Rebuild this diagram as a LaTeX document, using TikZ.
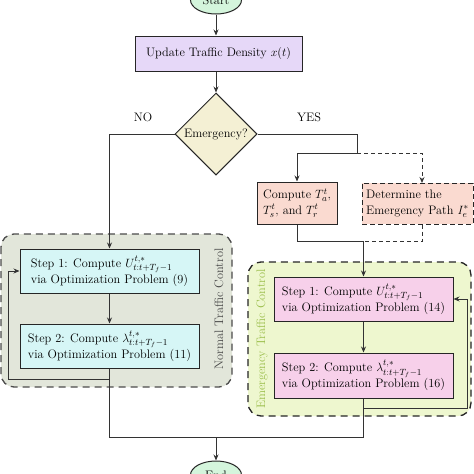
\documentclass[tikz,border=0pt]{standalone}
\usetikzlibrary{shapes.geometric,arrows.meta,calc}
\definecolor{startc}{RGB}{212,245,220}
\definecolor{updc}{RGB}{230,216,248}
\definecolor{diac}{RGB}{244,240,212}
\definecolor{nstepc}{RGB}{214,246,246}
\definecolor{ngrp}{RGB}{226,230,218}
\definecolor{compc}{RGB}{250,218,208}
\definecolor{estepc}{RGB}{247,208,234}
\definecolor{egrp}{RGB}{238,247,207}
\definecolor{elabel}{RGB}{155,190,75}
\definecolor{nlabel}{RGB}{70,70,70}
\begin{document}
\begin{tikzpicture}[x=1pt,y=-1pt,
  every node/.style={font=\fontsize{12.3}{14.5}\selectfont},
  box/.style={draw=black!85, line width=1pt, rectangle, inner sep=0pt, align=left},
  term/.style={draw=black!85, line width=1pt, ellipse, fill=startc, minimum width=51pt, minimum height=28pt, inner sep=0pt},
  conn/.style={draw=black!80, line width=0.8pt},
  arr/.style={conn, -{Stealth[length=6pt,width=5pt]}},
  dconn/.style={conn, dash pattern=on 4pt off 3pt},
  grp/.style={line width=1.3pt, dash pattern=on 7pt off 5pt, rounded corners=13pt},
  grplabel/.style={rotate=90, font=\fontsize{12.3}{14}\selectfont}
]
\useasboundingbox[fill=white] (0,0) rectangle (474,474);
% groups
\draw[grp, fill=ngrp, draw=black!70] (1,234) rectangle (232,387);
\draw[grp, fill=egrp, draw=black!85] (248,262) rectangle (471,416);
\node[grplabel, text=nlabel] (nlab) at (219,309) {Normal Traffic Control};
\node[grplabel, text=elabel] (elab) at (262,339) {Emergency Traffic Control};
% nodes
\node[term] (start) at (216,0) {Start};
\node[box, fill=updc, minimum width=167pt, minimum height=35pt, align=center] (upd) at (218.5,53.5) {Update Traffic Density $x(t)$};
\node[draw=black!85, line width=1pt, diamond, fill=diac, minimum width=82pt, minimum height=82pt, inner sep=0pt] (dia) at (216,134) {Emergency?};
\node (no) at (143,117) {NO};
\node (yes) at (309,117) {YES};
\node[box, fill=compc, minimum width=80pt, minimum height=42pt] (comp) at (297,203) {Compute $T_a^t$,\\[1pt]$T_s^t$, and $T_r^t$};
\node[box, fill=compc, minimum width=111pt, minimum height=41pt, dash pattern=on 5pt off 3pt] (det) at (417.5,203.5) {Determine the\\[1pt]Emergency Path $I_e^*$};
\node[box, fill=nstepc, minimum width=179pt, minimum height=44pt] (n1) at (109.5,271) {Step 1: Compute $U^{t,*}_{t:t+T_f-1}$\\via Optimization Problem (9)};
\node[box, fill=nstepc, minimum width=179pt, minimum height=44pt] (n2) at (109.5,346) {Step 2: Compute $\lambda^{t,*}_{t:t+T_f-1}$\\via Optimization Problem (11)};
\node[box, fill=estepc, minimum width=179pt, minimum height=44pt] (e1) at (363.5,299) {Step 1: Compute $U^{t,*}_{t:t+T_f-1}$\\via Optimization Problem (14)};
\node[box, fill=estepc, minimum width=179pt, minimum height=45pt] (e2) at (363.5,375.5) {Step 2: Compute $\lambda^{t,*}_{t:t+T_f-1}$\\via Optimization Problem (16)};
\node[term] (end) at (216,475) {End};
% coordinates
\coordinate (split) at (357,153);
\coordinate (merge) at (363.5,241);
\coordinate (join) at (216,437);
\coordinate (fbl) at (109.5,379);
\coordinate (fbr) at (363.5,408);
% connectors
\draw[arr] (start) -- (start |- upd.north);
\draw[arr] (upd.south -| dia) -- (dia.north);
\draw[arr] (dia.west) -| (n1.north);
\draw[conn] (dia.east) -| (split);
\draw[arr] (split) -| (comp.north);
\draw[dconn, -{Stealth[length=6pt,width=5pt]}] (split) -- (422,153) -- (422,183);
\draw[conn] (comp.south) |- (merge);
\draw[dconn] (det.south -| 422,0) |- (merge);
\draw[arr] (merge) -- (e1.north);
\draw[arr] (n1) -- (n2);
\draw[arr] (e1) -- (e2);
\draw[conn] (n2.south) |- (join);
\draw[conn] (e2.south) |- (join);
\draw[arr] (join) -- (end.north);
\draw[arr] (fbl) -- (8,379) |- (n1.west);
\draw[arr] (fbr) -- (467,408) |- (e1.east);
\end{tikzpicture}
\end{document}
